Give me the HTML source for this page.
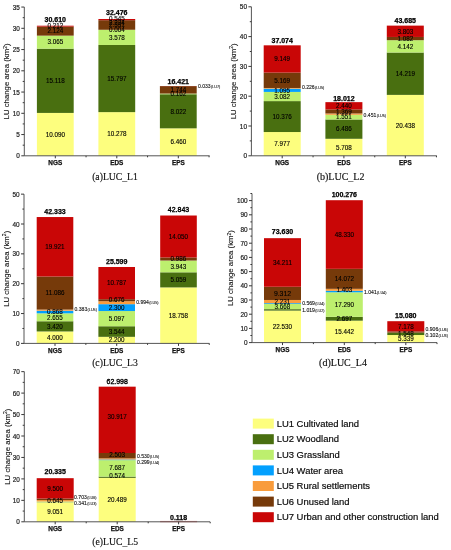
<!DOCTYPE html>
<html><head><meta charset="utf-8"><style>
html,body{margin:0;padding:0;background:#fff;width:451px;height:550px;overflow:hidden;}
svg{display:block;will-change:transform;font-family:"Liberation Sans",sans-serif;}
text{font-family:"Liberation Sans",sans-serif;}
.v{text-anchor:middle;font-size:6.3px;fill:#000;stroke:#000;stroke-width:0.12px;}
.tot{text-anchor:middle;font-size:7.0px;font-weight:bold;fill:#000;stroke:#000;stroke-width:0.25px;}
.tk{text-anchor:end;font-size:7.3px;fill:#1e1e1e;stroke:#1e1e1e;stroke-width:0.22px;}
.treg{font-weight:normal;stroke-width:0.35px;}
.xc{text-anchor:middle;font-size:6.4px;font-weight:bold;fill:#111;stroke:#111;stroke-width:0.25px;}
.sd{font-size:5.8px;fill:#1a1a1a;stroke:#1a1a1a;stroke-width:0.14px;text-anchor:start;}
.ss{font-size:4.4px;fill:#222;stroke:#222;stroke-width:0.12px;}
.yl{text-anchor:middle;font-size:7.8px;fill:#111;stroke:#111;stroke-width:0.1px;}
.cap{text-anchor:middle;font-family:"Liberation Serif",serif;font-size:9.7px;fill:#111;stroke:#111;stroke-width:0.15px;}
.lg{text-anchor:start;font-size:9.45px;fill:#0a0a0a;stroke:#0a0a0a;stroke-width:0.18px;}
.ax{fill:none;stroke:#555;stroke-width:1;}
.tkl{fill:none;stroke:#383838;stroke-width:1;}
</style></head><body>
<svg width="451" height="550" viewBox="0 0 451 550">
<rect width="451" height="550" fill="#fff"/>
<g>
<rect x="36.90" y="112.92" width="36.80" height="42.88" fill="#FDFE7E"/>
<rect x="36.90" y="48.67" width="36.80" height="64.25" fill="#496F10"/>
<rect x="36.90" y="35.64" width="36.80" height="13.03" fill="#BDEF6E"/>
<rect x="36.90" y="26.61" width="36.80" height="9.03" fill="#763A0A"/>
<rect x="36.90" y="25.71" width="36.80" height="0.90" fill="#C90606"/>
<text class="v" x="55.30" y="136.61">10.090</text>
<text class="v" x="55.30" y="83.05">15.118</text>
<text class="v" x="55.30" y="43.76">3.065</text>
<text class="v" x="55.30" y="32.96">2.124</text>
<text class="v" x="55.30" y="27.56">0.212</text>
<text class="tot" x="55.30" y="22.25">30.610</text>
<rect x="98.40" y="112.12" width="36.80" height="43.68" fill="#FDFE7E"/>
<rect x="98.40" y="44.98" width="36.80" height="67.14" fill="#496F10"/>
<rect x="98.40" y="29.77" width="36.80" height="15.21" fill="#BDEF6E"/>
<rect x="98.40" y="29.76" width="36.80" height="0.02" fill="#F99C3C"/>
<rect x="98.40" y="20.20" width="36.80" height="9.56" fill="#763A0A"/>
<rect x="98.40" y="19.01" width="36.80" height="1.19" fill="#C90606"/>
<text class="v" x="116.80" y="136.21">10.278</text>
<text class="v" x="116.80" y="80.81">15.797</text>
<text class="v" x="116.80" y="39.86">3.578</text>
<text class="v" x="116.80" y="31.56">0.004</text>
<text class="v" x="116.80" y="25.16">2.224</text>
<text class="v" x="116.80" y="20.66">0.545</text>
<text class="v" x="116.80" y="27.36">2.331</text>
<text class="tot" x="116.80" y="15.05">32.476</text>
<rect x="159.90" y="128.35" width="36.80" height="27.45" fill="#FDFE7E"/>
<rect x="159.90" y="94.25" width="36.80" height="34.09" fill="#496F10"/>
<rect x="159.90" y="93.56" width="36.80" height="0.69" fill="#BDEF6E"/>
<rect x="159.90" y="86.15" width="36.80" height="7.41" fill="#763A0A"/>
<rect x="159.90" y="86.01" width="36.80" height="0.14" fill="#C90606"/>
<text class="v" x="178.30" y="144.33">6.460</text>
<text class="v" x="178.30" y="113.55">8.022</text>
<text class="v" x="178.30" y="96.46">0.162</text>
<text class="v" x="178.30" y="91.76">1.744</text>
<text class="tot" x="178.30" y="83.75">16.421</text>
<text class="sd" transform="translate(197.90,88.18) scale(0.88,1)">0.033</text>
<text class="ss" transform="translate(210.97,88.18) scale(0.85,1)">(LU7)</text>
<path class="ax" d="M24.30 7.05V155.80H209.60"/>
<text class="tk" transform="translate(19.90,158.41) scale(0.88,1)">0</text>
<text class="tk" transform="translate(19.90,137.16) scale(0.88,1)">5</text>
<text class="tk" transform="translate(19.90,115.91) scale(0.88,1)">10</text>
<text class="tk" transform="translate(19.90,94.66) scale(0.88,1)">15</text>
<text class="tk" transform="translate(19.90,73.41) scale(0.88,1)">20</text>
<text class="tk" transform="translate(19.90,52.16) scale(0.88,1)">25</text>
<text class="tk" transform="translate(19.90,30.91) scale(0.88,1)">30</text>
<text class="tk" transform="translate(19.90,9.66) scale(0.88,1)">35</text>
<path class="tkl" d="M21.30 155.80H24.30M22.70 145.18H24.30M21.30 134.55H24.30M22.70 123.93H24.30M21.30 113.30H24.30M22.70 102.68H24.30M21.30 92.05H24.30M22.70 81.43H24.30M21.30 70.80H24.30M22.70 60.18H24.30M21.30 49.55H24.30M22.70 38.93H24.30M21.30 28.30H24.30M22.70 17.68H24.30M21.30 7.05H24.30M55.30 155.80v2.5M116.80 155.80v2.5M178.30 155.80v2.5M86.05 155.80v1.5M147.55 155.80v1.5M209.05 155.80v1.5"/>
<text class="xc" x="55.30" y="165.49">NGS</text>
<text class="xc" x="116.80" y="165.49">EDS</text>
<text class="xc" x="178.30" y="165.49">EPS</text>
<text class="yl" transform="translate(9.30,81.43) rotate(-90)" x="0" y="0">LU change area (km<tspan font-size="5" dy="-2.8">2</tspan><tspan dy="2.8">)</tspan></text>
<text class="cap" x="115.00" y="179.80">(a)LUC_L1</text>
</g>
<g>
<rect x="263.70" y="132.03" width="37.00" height="23.77" fill="#FDFE7E"/>
<rect x="263.70" y="101.11" width="37.00" height="30.92" fill="#496F10"/>
<rect x="263.70" y="91.92" width="37.00" height="9.18" fill="#BDEF6E"/>
<rect x="263.70" y="88.66" width="37.00" height="3.26" fill="#03A0FE"/>
<rect x="263.70" y="87.99" width="37.00" height="0.67" fill="#F99C3C"/>
<rect x="263.70" y="72.58" width="37.00" height="15.40" fill="#763A0A"/>
<rect x="263.70" y="45.32" width="37.00" height="27.26" fill="#C90606"/>
<text class="v" x="282.20" y="146.17">7.977</text>
<text class="v" x="282.20" y="118.82">10.376</text>
<text class="v" x="282.20" y="98.77">3.082</text>
<text class="v" x="282.20" y="92.55">1.095</text>
<text class="v" x="282.20" y="82.54">5.169</text>
<text class="v" x="282.20" y="61.21">9.149</text>
<text class="tot" x="282.20" y="42.95">37.074</text>
<text class="sd" transform="translate(301.90,89.28) scale(0.88,1)">0.226</text>
<text class="ss" transform="translate(314.97,89.28) scale(0.85,1)">(LU5)</text>
<rect x="325.40" y="138.79" width="37.00" height="17.01" fill="#FDFE7E"/>
<rect x="325.40" y="119.46" width="37.00" height="19.33" fill="#496F10"/>
<rect x="325.40" y="114.84" width="37.00" height="4.62" fill="#BDEF6E"/>
<rect x="325.40" y="113.50" width="37.00" height="1.34" fill="#F99C3C"/>
<rect x="325.40" y="109.42" width="37.00" height="4.08" fill="#763A0A"/>
<rect x="325.40" y="102.15" width="37.00" height="7.27" fill="#C90606"/>
<text class="v" x="343.90" y="149.55">5.708</text>
<text class="v" x="343.90" y="131.38">6.486</text>
<text class="v" x="343.90" y="119.41">1.551</text>
<text class="v" x="343.90" y="113.71">1.369</text>
<text class="v" x="343.90" y="108.04">2.440</text>
<text class="tot" x="343.90" y="100.65">18.012</text>
<text class="sd" transform="translate(363.60,116.68) scale(0.88,1)">0.451</text>
<text class="ss" transform="translate(376.67,116.68) scale(0.85,1)">(LU5)</text>
<rect x="386.80" y="94.89" width="37.00" height="60.91" fill="#FDFE7E"/>
<rect x="386.80" y="52.52" width="37.00" height="42.37" fill="#496F10"/>
<rect x="386.80" y="40.18" width="37.00" height="12.34" fill="#BDEF6E"/>
<rect x="386.80" y="36.95" width="37.00" height="3.22" fill="#763A0A"/>
<rect x="386.80" y="25.62" width="37.00" height="11.33" fill="#C90606"/>
<text class="v" x="405.30" y="127.60">20.438</text>
<text class="v" x="405.30" y="75.96">14.219</text>
<text class="v" x="405.30" y="48.61">4.142</text>
<text class="v" x="405.30" y="40.82">1.082</text>
<text class="v" x="405.30" y="33.54">3.803</text>
<text class="tot" x="405.30" y="23.25">43.685</text>
<path class="ax" d="M251.40 6.80V155.80H436.80"/>
<text class="tk" transform="translate(247.00,158.41) scale(0.88,1)">0</text>
<text class="tk" transform="translate(247.00,128.61) scale(0.88,1)">10</text>
<text class="tk" transform="translate(247.00,98.81) scale(0.88,1)">20</text>
<text class="tk" transform="translate(247.00,69.01) scale(0.88,1)">30</text>
<text class="tk" transform="translate(247.00,39.21) scale(0.88,1)">40</text>
<text class="tk" transform="translate(247.00,9.41) scale(0.88,1)">50</text>
<path class="tkl" d="M248.40 155.80H251.40M249.80 140.90H251.40M248.40 126.00H251.40M249.80 111.10H251.40M248.40 96.20H251.40M249.80 81.30H251.40M248.40 66.40H251.40M249.80 51.50H251.40M248.40 36.60H251.40M249.80 21.70H251.40M248.40 6.80H251.40M282.20 155.80v2.5M343.90 155.80v2.5M405.30 155.80v2.5M313.05 155.80v1.5M374.75 155.80v1.5M436.45 155.80v1.5"/>
<text class="xc" x="282.20" y="165.49">NGS</text>
<text class="xc" x="343.90" y="165.49">EDS</text>
<text class="xc" x="405.30" y="165.49">EPS</text>
<text class="yl" transform="translate(236.00,81.30) rotate(-90)" x="0" y="0">LU change area (km<tspan font-size="5" dy="-2.8">2</tspan><tspan dy="2.8">)</tspan></text>
<text class="cap" x="340.60" y="179.80" style="font-size:10.0px">(b)LUC_L2</text>
</g>
<g>
<rect x="36.70" y="331.46" width="36.60" height="11.94" fill="#FDFE7E"/>
<rect x="36.70" y="321.25" width="36.60" height="10.21" fill="#496F10"/>
<rect x="36.70" y="313.33" width="36.60" height="7.93" fill="#BDEF6E"/>
<rect x="36.70" y="310.74" width="36.60" height="2.59" fill="#03A0FE"/>
<rect x="36.70" y="309.59" width="36.60" height="1.14" fill="#F99C3C"/>
<rect x="36.70" y="276.50" width="36.60" height="33.09" fill="#763A0A"/>
<rect x="36.70" y="217.04" width="36.60" height="59.46" fill="#C90606"/>
<text class="v" x="55.00" y="339.69">4.000</text>
<text class="v" x="55.00" y="328.61">3.420</text>
<text class="v" x="55.00" y="319.54">2.655</text>
<text class="v" x="55.00" y="314.29">0.868</text>
<text class="v" x="55.00" y="295.30">11.086</text>
<text class="v" x="55.00" y="249.02">19.921</text>
<text class="tot" x="55.00" y="213.85">42.333</text>
<text class="sd" transform="translate(74.50,311.28) scale(0.88,1)">0.383</text>
<text class="ss" transform="translate(87.57,311.28) scale(0.85,1)">(LU5)</text>
<rect x="98.40" y="336.83" width="36.60" height="6.57" fill="#FDFE7E"/>
<rect x="98.40" y="326.25" width="36.60" height="10.58" fill="#496F10"/>
<rect x="98.40" y="311.04" width="36.60" height="15.21" fill="#BDEF6E"/>
<rect x="98.40" y="304.17" width="36.60" height="6.87" fill="#03A0FE"/>
<rect x="98.40" y="301.21" width="36.60" height="2.97" fill="#F99C3C"/>
<rect x="98.40" y="299.19" width="36.60" height="2.02" fill="#763A0A"/>
<rect x="98.40" y="266.99" width="36.60" height="32.20" fill="#C90606"/>
<text class="v" x="116.70" y="342.37">2.200</text>
<text class="v" x="116.70" y="333.80">3.544</text>
<text class="v" x="116.70" y="320.90">5.097</text>
<text class="v" x="116.70" y="309.86">2.300</text>
<text class="v" x="116.70" y="302.45">0.676</text>
<text class="v" x="116.70" y="285.34">10.787</text>
<text class="tot" x="116.70" y="264.35">25.599</text>
<text class="sd" transform="translate(136.20,303.58) scale(0.88,1)">0.994</text>
<text class="ss" transform="translate(149.27,303.58) scale(0.85,1)">(LU5)</text>
<rect x="160.20" y="287.41" width="36.60" height="55.99" fill="#FDFE7E"/>
<rect x="160.20" y="272.31" width="36.60" height="15.10" fill="#496F10"/>
<rect x="160.20" y="260.54" width="36.60" height="11.77" fill="#BDEF6E"/>
<rect x="160.20" y="257.45" width="36.60" height="3.08" fill="#763A0A"/>
<rect x="160.20" y="215.51" width="36.60" height="41.94" fill="#C90606"/>
<text class="v" x="178.50" y="317.66">18.758</text>
<text class="v" x="178.50" y="282.11">5.059</text>
<text class="v" x="178.50" y="268.68">3.943</text>
<text class="v" x="178.50" y="261.25">0.986</text>
<text class="v" x="178.50" y="238.74">14.050</text>
<text class="tot treg" x="178.50" y="212.35">42.843</text>
<path class="ax" d="M24.00 194.15V343.40H209.40"/>
<text class="tk" transform="translate(19.60,346.01) scale(0.88,1)">0</text>
<text class="tk" transform="translate(19.60,316.16) scale(0.88,1)">10</text>
<text class="tk" transform="translate(19.60,286.31) scale(0.88,1)">20</text>
<text class="tk" transform="translate(19.60,256.46) scale(0.88,1)">30</text>
<text class="tk" transform="translate(19.60,226.61) scale(0.88,1)">40</text>
<text class="tk" transform="translate(19.60,196.76) scale(0.88,1)">50</text>
<path class="tkl" d="M21.00 343.40H24.00M22.40 328.47H24.00M21.00 313.55H24.00M22.40 298.62H24.00M21.00 283.70H24.00M22.40 268.77H24.00M21.00 253.85H24.00M22.40 238.92H24.00M21.00 224.00H24.00M22.40 209.07H24.00M21.00 194.15H24.00M55.00 343.40v2.5M116.70 343.40v2.5M178.50 343.40v2.5M85.85 343.40v1.5M147.55 343.40v1.5M209.25 343.40v1.5"/>
<text class="xc" x="55.00" y="353.09">NGS</text>
<text class="xc" x="116.70" y="353.09">EDS</text>
<text class="xc" x="178.50" y="353.09">EPS</text>
<text class="yl" transform="translate(8.90,268.77) rotate(-90)" x="0" y="0">LU change area (km<tspan font-size="5" dy="-2.8">2</tspan><tspan dy="2.8">)</tspan></text>
<text class="cap" x="115.00" y="365.90">(c)LUC_L3</text>
</g>
<g>
<rect x="264.00" y="310.61" width="37.00" height="31.99" fill="#FDFE7E"/>
<rect x="264.00" y="309.16" width="37.00" height="1.45" fill="#496F10"/>
<rect x="264.00" y="303.95" width="37.00" height="5.21" fill="#BDEF6E"/>
<rect x="264.00" y="303.14" width="37.00" height="0.81" fill="#03A0FE"/>
<rect x="264.00" y="299.98" width="37.00" height="3.17" fill="#F99C3C"/>
<rect x="264.00" y="286.75" width="37.00" height="13.22" fill="#763A0A"/>
<rect x="264.00" y="238.17" width="37.00" height="48.58" fill="#C90606"/>
<text class="v" x="282.50" y="328.86">22.530</text>
<text class="v" x="282.50" y="308.81">3.668</text>
<text class="v" x="282.50" y="303.82">2.231</text>
<text class="v" x="282.50" y="295.83" style="font-size:6.9px">9.312</text>
<text class="v" x="282.50" y="264.72">34.211</text>
<text class="tot" x="282.50" y="234.35">73.630</text>
<text class="sd" transform="translate(302.20,305.28) scale(0.88,1)">0.569</text>
<text class="ss" transform="translate(315.27,305.28) scale(0.85,1)">(LU4)</text>
<text class="sd" transform="translate(302.20,312.18) scale(0.88,1)">1.019</text>
<text class="ss" transform="translate(315.27,312.18) scale(0.85,1)">(LU2)</text>
<rect x="325.80" y="320.67" width="37.00" height="21.93" fill="#FDFE7E"/>
<rect x="325.80" y="316.84" width="37.00" height="3.83" fill="#496F10"/>
<rect x="325.80" y="292.29" width="37.00" height="24.55" fill="#BDEF6E"/>
<rect x="325.80" y="290.81" width="37.00" height="1.48" fill="#03A0FE"/>
<rect x="325.80" y="288.82" width="37.00" height="1.99" fill="#F99C3C"/>
<rect x="325.80" y="268.84" width="37.00" height="19.98" fill="#763A0A"/>
<rect x="325.80" y="200.21" width="37.00" height="68.63" fill="#C90606"/>
<text class="v" x="344.30" y="333.89">15.442</text>
<text class="v" x="344.30" y="321.01">2.697</text>
<text class="v" x="344.30" y="306.82">17.290</text>
<text class="v" x="344.30" y="292.07">1.403</text>
<text class="v" x="344.30" y="281.08">14.072</text>
<text class="v" x="344.30" y="236.78">48.330</text>
<text class="tot" x="344.30" y="196.95">100.276</text>
<text class="sd" transform="translate(364.00,293.58) scale(0.88,1)">1.041</text>
<text class="ss" transform="translate(377.07,293.58) scale(0.85,1)">(LU4)</text>
<rect x="387.30" y="335.02" width="37.00" height="7.58" fill="#FDFE7E"/>
<rect x="387.30" y="332.82" width="37.00" height="2.20" fill="#496F10"/>
<rect x="387.30" y="332.68" width="37.00" height="0.14" fill="#BDEF6E"/>
<rect x="387.30" y="331.39" width="37.00" height="1.29" fill="#763A0A"/>
<rect x="387.30" y="321.20" width="37.00" height="10.19" fill="#C90606"/>
<text class="v" x="405.80" y="341.06">5.339</text>
<text class="v" x="405.80" y="336.17">1.548</text>
<text class="v" x="405.80" y="328.55">7.178</text>
<text class="tot" x="405.80" y="318.05">15.080</text>
<text class="sd" transform="translate(425.50,330.78) scale(0.88,1)">0.906</text>
<text class="ss" transform="translate(438.57,330.78) scale(0.85,1)">(LU6)</text>
<text class="sd" transform="translate(425.50,337.18) scale(0.88,1)">0.102</text>
<text class="ss" transform="translate(438.57,337.18) scale(0.85,1)">(LU3)</text>
<path class="ax" d="M252.00 193.50V342.60H437.00"/>
<text class="tk" transform="translate(247.60,345.21) scale(0.88,1)">0</text>
<text class="tk" transform="translate(247.60,331.01) scale(0.88,1)">10</text>
<text class="tk" transform="translate(247.60,316.81) scale(0.88,1)">20</text>
<text class="tk" transform="translate(247.60,302.61) scale(0.88,1)">30</text>
<text class="tk" transform="translate(247.60,288.41) scale(0.88,1)">40</text>
<text class="tk" transform="translate(247.60,274.21) scale(0.88,1)">50</text>
<text class="tk" transform="translate(247.60,260.01) scale(0.88,1)">60</text>
<text class="tk" transform="translate(247.60,245.81) scale(0.88,1)">70</text>
<text class="tk" transform="translate(247.60,231.61) scale(0.88,1)">80</text>
<text class="tk" transform="translate(247.60,217.41) scale(0.88,1)">90</text>
<text class="tk" transform="translate(247.60,203.21) scale(0.88,1)">100</text>
<path class="tkl" d="M249.00 342.60H252.00M250.40 335.50H252.00M249.00 328.40H252.00M250.40 321.30H252.00M249.00 314.20H252.00M250.40 307.10H252.00M249.00 300.00H252.00M250.40 292.90H252.00M249.00 285.80H252.00M250.40 278.70H252.00M249.00 271.60H252.00M250.40 264.50H252.00M249.00 257.40H252.00M250.40 250.30H252.00M249.00 243.20H252.00M250.40 236.10H252.00M249.00 229.00H252.00M250.40 221.90H252.00M249.00 214.80H252.00M250.40 207.70H252.00M249.00 200.60H252.00M250.40 193.50H252.00M282.50 342.60v2.5M344.30 342.60v2.5M405.80 342.60v2.5M313.40 342.60v1.5M375.20 342.60v1.5M437.00 342.60v1.5"/>
<text class="xc" x="282.50" y="352.29">NGS</text>
<text class="xc" x="344.30" y="352.29">EDS</text>
<text class="xc" x="405.80" y="352.29">EPS</text>
<text class="yl" transform="translate(233.30,268.05) rotate(-90)" x="0" y="0">LU change area (km<tspan font-size="5" dy="-2.8">2</tspan><tspan dy="2.8">)</tspan></text>
<text class="cap" x="343.00" y="365.90" style="font-size:10.0px">(d)LUC_L4</text>
</g>
<g>
<rect x="36.70" y="502.39" width="37.00" height="19.41" fill="#FDFE7E"/>
<rect x="36.70" y="502.18" width="37.00" height="0.20" fill="#496F10"/>
<rect x="36.70" y="501.45" width="37.00" height="0.73" fill="#BDEF6E"/>
<rect x="36.70" y="500.07" width="37.00" height="1.38" fill="#F99C3C"/>
<rect x="36.70" y="498.56" width="37.00" height="1.51" fill="#763A0A"/>
<rect x="36.70" y="478.18" width="37.00" height="20.38" fill="#C90606"/>
<text class="v" x="55.20" y="514.35">9.051</text>
<text class="v" x="55.20" y="503.01">0.645</text>
<text class="v" x="55.20" y="490.63">9.500</text>
<text class="tot" x="55.20" y="474.35">20.335</text>
<text class="sd" transform="translate(74.10,499.48) scale(0.88,1)">0.703</text>
<text class="ss" transform="translate(87.17,499.48) scale(0.85,1)">(LU6)</text>
<text class="sd" transform="translate(74.10,505.38) scale(0.88,1)">0.341</text>
<text class="ss" transform="translate(87.17,505.38) scale(0.85,1)">(LU3)</text>
<rect x="98.70" y="477.85" width="37.00" height="43.95" fill="#FDFE7E"/>
<rect x="98.70" y="476.62" width="37.00" height="1.23" fill="#496F10"/>
<rect x="98.70" y="460.13" width="37.00" height="16.49" fill="#BDEF6E"/>
<rect x="98.70" y="459.49" width="37.00" height="0.64" fill="#03A0FE"/>
<rect x="98.70" y="458.35" width="37.00" height="1.14" fill="#F99C3C"/>
<rect x="98.70" y="452.98" width="37.00" height="5.37" fill="#763A0A"/>
<rect x="98.70" y="386.67" width="37.00" height="66.32" fill="#C90606"/>
<text class="v" x="117.20" y="502.08">20.489</text>
<text class="v" x="117.20" y="477.76">0.574</text>
<text class="v" x="117.20" y="469.86">7.687</text>
<text class="v" x="117.20" y="457.36">2.503</text>
<text class="v" x="117.20" y="418.66">30.917</text>
<text class="tot treg" x="117.20" y="383.75">62.998</text>
<text class="sd" transform="translate(136.90,458.18) scale(0.88,1)">0.530</text>
<text class="ss" transform="translate(149.97,458.18) scale(0.85,1)">(LU5)</text>
<text class="sd" transform="translate(136.90,463.98) scale(0.88,1)">0.299</text>
<text class="ss" transform="translate(149.97,463.98) scale(0.85,1)">(LU4)</text>
<rect x="160.10" y="521.55" width="37.00" height="0.25" fill="#C90606"/>
<rect x="160.10" y="520.90" width="37.00" height="1.4" fill="#CC0000" opacity="0.35"/>
<text class="tot" x="178.60" y="519.65">0.118</text>
<path class="ax" d="M24.30 371.65V521.80H210.00"/>
<text class="tk" transform="translate(19.90,524.41) scale(0.88,1)">0</text>
<text class="tk" transform="translate(19.90,502.96) scale(0.88,1)">10</text>
<text class="tk" transform="translate(19.90,481.51) scale(0.88,1)">20</text>
<text class="tk" transform="translate(19.90,460.06) scale(0.88,1)">30</text>
<text class="tk" transform="translate(19.90,438.61) scale(0.88,1)">40</text>
<text class="tk" transform="translate(19.90,417.16) scale(0.88,1)">50</text>
<text class="tk" transform="translate(19.90,395.71) scale(0.88,1)">60</text>
<text class="tk" transform="translate(19.90,374.26) scale(0.88,1)">70</text>
<path class="tkl" d="M21.30 521.80H24.30M22.70 511.07H24.30M21.30 500.35H24.30M22.70 489.62H24.30M21.30 478.90H24.30M22.70 468.17H24.30M21.30 457.45H24.30M22.70 446.72H24.30M21.30 436.00H24.30M22.70 425.27H24.30M21.30 414.55H24.30M22.70 403.82H24.30M21.30 393.10H24.30M22.70 382.37H24.30M21.30 371.65H24.30M55.20 521.80v2.5M117.20 521.80v2.5M178.60 521.80v2.5M86.20 521.80v1.5M148.20 521.80v1.5M210.20 521.80v1.5"/>
<text class="xc" x="55.20" y="531.49">NGS</text>
<text class="xc" x="117.20" y="531.49">EDS</text>
<text class="xc" x="178.60" y="531.49">EPS</text>
<text class="yl" transform="translate(9.90,446.72) rotate(-90)" x="0" y="0">LU change area (km<tspan font-size="5" dy="-2.8">2</tspan><tspan dy="2.8">)</tspan></text>
<text class="cap" x="115.20" y="544.50">(e)LUC_L5</text>
</g>
<rect x="252.8" y="418.60" width="21" height="10" fill="#FDFE7E"/>
<text class="lg" x="276.70" y="426.86">LU1 Cultivated land</text>
<rect x="252.8" y="434.20" width="21" height="10" fill="#496F10"/>
<text class="lg" x="276.70" y="442.46">LU2 Woodland</text>
<rect x="252.8" y="449.80" width="21" height="10" fill="#BDEF6E"/>
<text class="lg" x="276.70" y="458.06">LU3 Grassland</text>
<rect x="252.8" y="465.40" width="21" height="10" fill="#03A0FE"/>
<text class="lg" x="276.70" y="473.66">LU4 Water area</text>
<rect x="252.8" y="481.00" width="21" height="10" fill="#F99C3C"/>
<text class="lg" x="276.70" y="489.26">LU5 Rural settlements</text>
<rect x="252.8" y="496.60" width="21" height="10" fill="#763A0A"/>
<text class="lg" x="276.70" y="504.86">LU6 Unused land</text>
<rect x="252.8" y="512.20" width="21" height="10" fill="#C90606"/>
<text class="lg" x="276.70" y="520.46">LU7 Urban and other construction land</text>
</svg>
</body></html>
